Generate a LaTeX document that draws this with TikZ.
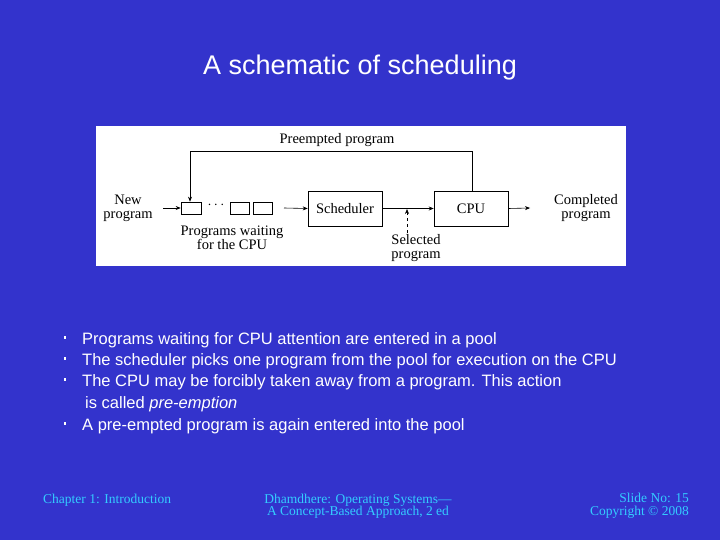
\documentclass[tikz,border=0pt]{standalone}
\usepackage{fontspec}
\setmainfont{Liberation Serif}
\setsansfont{Liberation Sans}
\usetikzlibrary{arrows.meta}
\definecolor{bg}{HTML}{3333CC}
\definecolor{foot}{HTML}{33CCFF}
\begin{document}
\begin{tikzpicture}[x=1pt,y=-1pt,
  box/.style={draw=black,line width=0.6pt,fill=white,inner sep=0pt},
  dlab/.style={font=\fontsize{14.5}{14}\selectfont,align=center,text=black,inner sep=0pt},
  arr/.style={-{Stealth[length=5pt,width=4pt]},line width=0.6pt},
  bul/.style={font=\sffamily\fontsize{16.5}{18}\selectfont,text=white,anchor=west,inner sep=0pt},
  ft/.style={font=\fontsize{13.5}{12.5}\selectfont,text=foot,inner sep=0pt,align=center}]
\fill[bg] (0,0) rectangle (720,540);
\useasboundingbox (0,0) rectangle (720,540);
\node[font=\sffamily\fontsize{27}{27}\selectfont,text=white] (title) at (360,68) {A schematic of scheduling};
\fill[white] (96,126) rectangle (626,266);
% diagram
\node[box,minimum width=20,minimum height=12] (q1) at (191,208) {};
\node[dlab] (dots) at (216,205) {$\cdots$};
\node[box,minimum width=19,minimum height=12] (q2) at (239.5,208) {};
\node[box,minimum width=19,minimum height=12] (q3) at (262.5,208) {};
\node[box,minimum width=74,minimum height=35] (sch) at (345,208.5) {};
\node[dlab] at (sch) {Scheduler};
\node[box,minimum width=74,minimum height=35] (cpu) at (471,208.5) {};
\node[dlab] at (cpu) {CPU};
\node[dlab] (newp) at (128,208) {New\\program};
\node[dlab] (comp) at (586,208) {Completed\\program};
\node[dlab] (wait) at (232,238) {Programs waiting\\for the CPU};
\node[dlab] (sel) at (416,248) {Selected\\program};
\node[dlab] (pre) at (337,140) {Preempted program};
\coordinate (nin) at (163,208);
\coordinate (qout) at (284,208);
\coordinate (cout) at (530,208);
\coordinate (t1) at (472,151);
\coordinate (t2) at (190,151);
\coordinate (sb) at (407,233);
\coordinate (st) at (407,209);
\draw[arr] (nin) -- (q1.west);
\draw[arr] (qout) -- (sch.west);
\draw[arr] (sch.east) -- (cpu.west);
\draw[arr] (cpu.east) -- (cout);
\draw[arr] (cpu.north -| t1) -- (t1) -- (t2) -- (q1.north -| t2);
\draw[arr,dashed] (sb) -- (st);
% bullets
\node[bul] (b1) at (82,340) {Programs waiting for CPU attention are entered in a pool};
\node[bul] (b2) at (82,361) {The scheduler picks one program from the pool for execution on the CPU};
\node[bul] (b3) at (82,382) {The CPU may be forcibly taken away from a program. This action};
\node[bul] (b3b) at (85,404) {is called \textit{pre-emption}};
\node[bul] (b4) at (82,426) {A pre-empted program is again entered into the pool};
\foreach \y in {340,361,382,426} \fill[white] (64,\y-4) rectangle (65.5,\y-1);
% footer
\node[ft,anchor=west] (f1) at (43,500) {Chapter 1: Introduction};
\node[ft] (f2) at (358,506) {Dhamdhere: Operating Systems—\\A Concept-Based Approach, 2 ed};
\node[ft,align=right,anchor=east] (f3) at (689,506) {Slide No: 15\\Copyright © 2008};
\end{tikzpicture}
\end{document}
